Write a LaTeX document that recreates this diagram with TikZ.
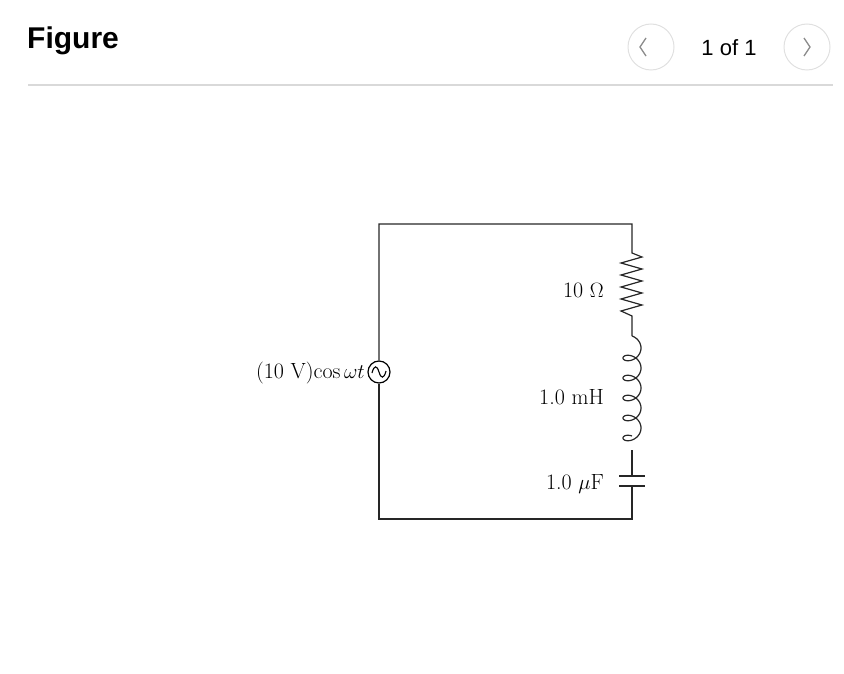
\documentclass[tikz,border=0pt]{standalone}
\usepackage{fontspec}
\newfontfamily\hdr{Liberation Sans}
\begin{document}
\begin{tikzpicture}[x=1pt,y=-1pt,
  wire/.style={line width=1.2pt,black!85},
  lab/.style={font=\fontsize{22}{24}\selectfont, anchor=east, inner sep=0pt},
  nav/.style={circle,draw=black!12,line width=1pt,minimum size=46pt,inner sep=0pt}]
\useasboundingbox (0,0) rectangle (844,674);
\node[font=\hdr\bfseries\fontsize{30}{32}\selectfont,anchor=base west,inner sep=0pt] (fig) at (27,49) {Figure};
\node[nav] (prev) at (651,47) {};
\node[nav] (next) at (807,47) {};
\draw[black!45,line width=1.3pt] (646,38) -- (640,47) -- (646,56);
\draw[black!45,line width=1.3pt] (804,38) -- (810,47) -- (804,56);
\node[font=\hdr\fontsize{22}{24}\selectfont,anchor=base,inner sep=0pt] (pg) at (729,56) {1 of 1};
\draw[black!15,line width=1.2pt] (28,85) -- (833,85);
% circuit
\node[circle,draw,line width=1.2pt,minimum size=22pt,inner sep=0pt] (src) at (379,372) {};
\draw[line width=1.1pt] (372,373) .. controls (374,365) and (377,365) .. (379,372) .. controls (381,379) and (384,379) .. (386,371);
\coordinate (tl) at (379,224); \coordinate (tr) at (632,224);
\coordinate (bl) at (379,519); \coordinate (br) at (632,519);
\draw[wire] (src.north) -- (tl) -- (tr) -- (632,253)
  -- (642,257) -- (621,263) -- (642,269) -- (621,275) -- (642,281) -- (621,287) -- (642,293) -- (621,299) -- (642,305) -- (621,311) -- (632,316) -- (632,336);
\draw[wire,domain=0:1800,samples=240,variable=\u] plot ({632+9*sin(\u)},{343+\u/18-7*cos(\u)});
\draw[wire] (632,336) -- (632,336);
\draw[wire] (632,450) -- (632,476);
\draw[wire] (619,476) -- (645,476);
\draw[wire] (619,486) -- (645,486);
\draw[wire] (632,486) -- (br) -- (bl) -- (src.south);
\node[lab] (r) at (604,290) {10 $\Omega$};
\node[lab] (l) at (604,397) {1.0 mH};
\node[lab] (c) at (604,484) {1.0 $\mu$F};
\node[lab] (s) at (365,373) {(10 V)$\cos\omega t$};
\end{tikzpicture}
\end{document}
